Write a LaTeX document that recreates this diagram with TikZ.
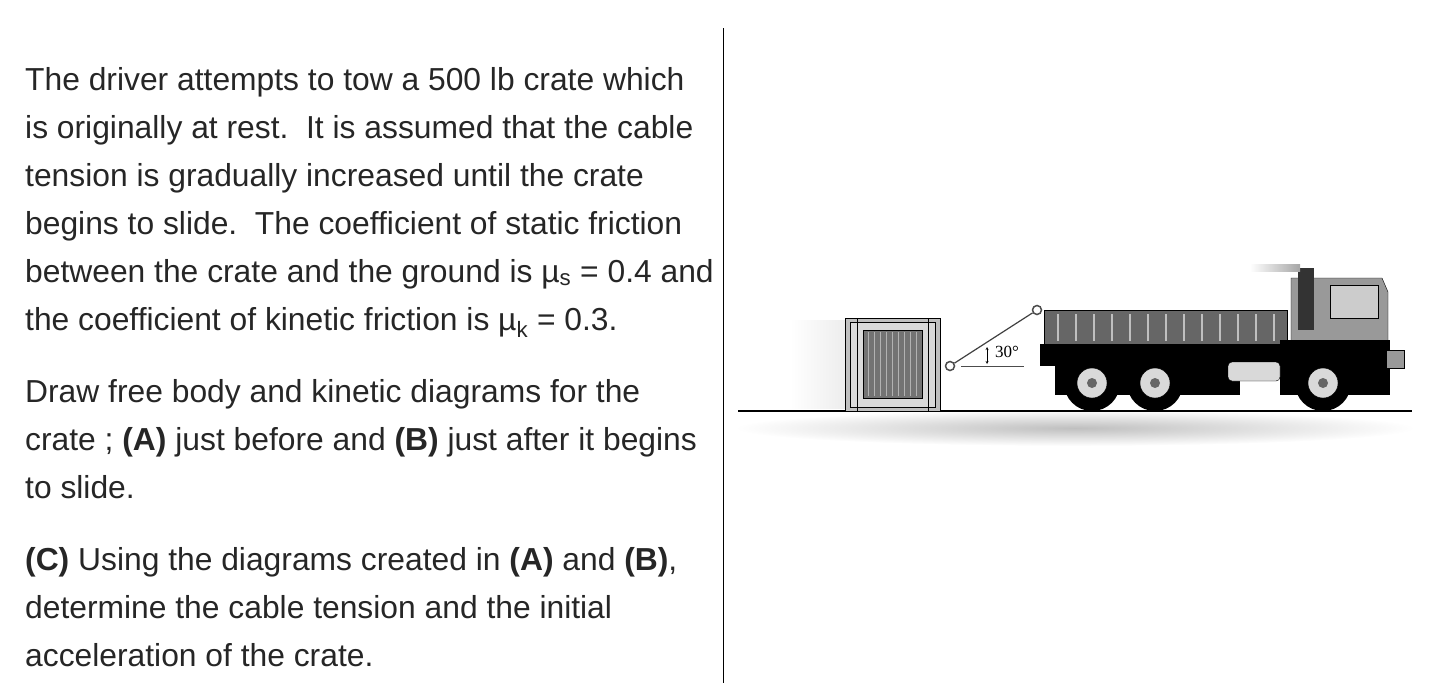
\documentclass[tikz,border=0pt]{standalone}
\usepackage{fontspec}
\setmainfont{Liberation Sans}
\newfontfamily\serifb{Liberation Serif}
\begin{document}
\begin{tikzpicture}[x=1pt,y=-1pt,
  txt/.style={anchor=base west,inner sep=0pt,font=\fontsize{31.8}{36}\selectfont,text=black!85},
  ring/.style={draw=black!70,fill=white,line width=1.5pt,circle,minimum size=9pt,inner sep=0pt}]
\useasboundingbox (0,0) rectangle (1435,699);
\draw[line width=1pt] (723,28) -- (723,683);
\node[txt] (l1) at (25,90) {The driver attempts to tow a 500 lb crate which};
\node[txt] (l2) at (25,138) {is originally at rest.\ \ It is assumed that the cable};
\node[txt] (l3) at (25,186) {tension is gradually increased until the crate};
\node[txt] (l4) at (25,234) {begins to slide.\ \ The coefficient of static friction};
\node[txt] (l5) at (25,282) {between the crate and the ground is µ\textsubscript{s} = 0.4 and};
\node[txt] (l6) at (25,330) {the coefficient of kinetic friction is µ\textsubscript{k} = 0.3.};
\node[txt] (l7) at (25,402) {Draw free body and kinetic diagrams for the};
\node[txt] (l8) at (25,450) {crate ; \textbf{(A)} just before and \textbf{(B)} just after it begins};
\node[txt] (l9) at (25,498) {to slide.};
\node[txt] (l10) at (25,570) {\textbf{(C)} Using the diagrams created in \textbf{(A)} and \textbf{(B)},};
\node[txt] (l11) at (25,618) {determine the cable tension and the initial};
\node[txt] (l12) at (25,666) {acceleration of the crate.};
% shadows
\shade[inner color=black!25,outer color=white] (1075,428) ellipse (340 and 18);
\shade[left color=white,right color=black!7] (790,320) rectangle (845,408);
% ground
\draw[line width=1.2pt] (738,411) -- (1412,411);
% crate
\draw[fill=black!25] (845,318) rectangle (940,411);
\draw[fill=black!15] (850,322) rectangle (935,407);
\draw[fill=black!55] (863,330) rectangle (922,398);
\foreach \i in {868,874,...,918} \draw[black!30] (\i,332) -- (\i,396);
\draw (845,318) rectangle (857,411) (928,318) rectangle (940,411);
% cable
\node[ring] (r1) at (950,366) {};
\node[ring] (r2) at (1037,310) {};
\draw[line width=1.2pt,black!75] (r1) -- (r2);
\draw[black!70,line width=1pt] (961,366) -- (1024,366);
\draw[<->,>=stealth,thin] (987,347) -- (987,364);
\node[font=\serifb\fontsize{17}{19}\selectfont,anchor=west,inner sep=0pt] (ang) at (995,352) {30°};
% truck bed
\draw[fill=black!60] (1044,310) rectangle (1287,344);
\foreach \i in {1058,1076,...,1280} \draw[black!25,line width=2pt] (\i,314) -- (\i,341);
\fill[black] (1040,344) rectangle (1295,366);
\fill[black] (1055,366) -- (1055,395) -- (1240,395) -- (1240,366) -- cycle;
% cab
\draw[fill=black!40] (1291,278) -- (1382,278) -- (1388,292) -- (1388,352) -- (1291,352) -- cycle;
\draw[fill=black!20] (1330,285) rectangle (1378,318);
\fill[black] (1280,340) rectangle (1390,395);
\draw[fill=black!40] (1386,350) rectangle (1404,368);
\fill[black!80] (1298,268) rectangle (1314,330);
\shade[left color=white,right color=black!35] (1250,264) rectangle (1300,271);
% tank
\draw[fill=black!15,rounded corners=4pt] (1228,362) rectangle (1280,381);
% wheels
\foreach \cx in {1092,1155,1323}{
  \fill[black] (\cx,383) circle (28);
  \draw[fill=black!15] (\cx,383) circle (15);
  \fill[black!60] (\cx,383) circle (5);
}
\end{tikzpicture}
\end{document}
